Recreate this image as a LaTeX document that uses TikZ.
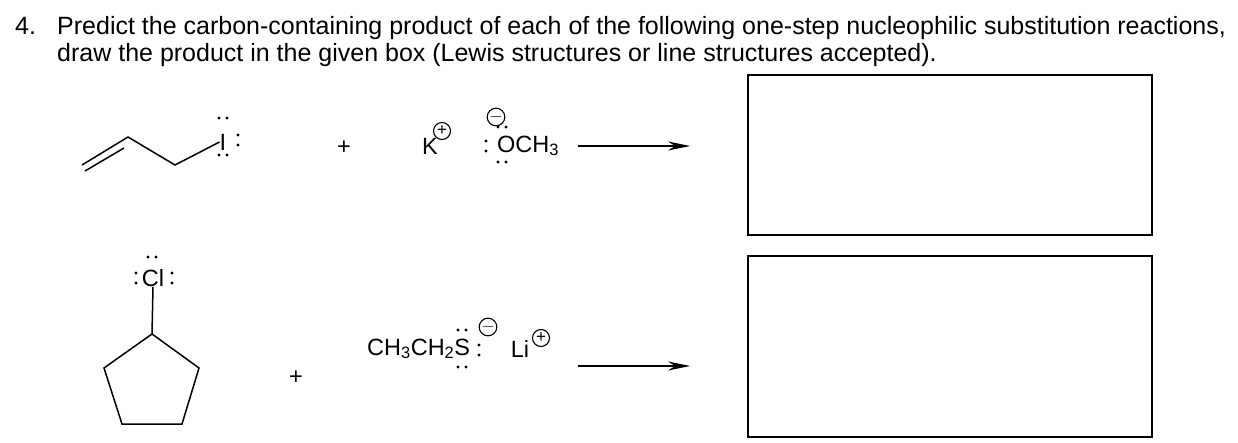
\documentclass[tikz,border=0pt]{standalone}
\usepackage{fontspec}
\setmainfont{Liberation Sans}
\usetikzlibrary{arrows.meta}
\begin{document}
\begin{tikzpicture}[x=1pt,y=-1pt,
  bond/.style={line width=1.5pt},
  lp/.style={fill=black},
  chg/.style={circle,draw,line width=1.1pt,inner sep=0pt,minimum size=17pt,font=\fontsize{17}{17}\selectfont},
  chem/.style={inner sep=0pt,font=\fontsize{23.5}{23.5}\selectfont},
  title/.style={anchor=base west,inner sep=0pt,font=\fontsize{25}{25}\selectfont},
  rxarrow/.style={line width=1.2pt,-{Stealth[length=22pt,width=9pt]}},
  answer/.style={draw,line width=1.2pt}]
\useasboundingbox (0,0) rectangle (1238,443);
\node[title] (num) at (15,35) {4.};
\node[title] (l1) at (57,35) {Predict the carbon-containing product of each of the following one-step nucleophilic substitution reactions,};
\node[title] (l2) at (57,62) {draw the product in the given box (Lewis structures or line structures accepted).};
% allyl iodide
\coordinate (c1) at (82,165);
\coordinate (c2) at (128,137);
\coordinate (c3) at (175,165);
\node[chem] (I) at (223,142) {I};
\draw[bond] (c1) -- (c2) -- (c3) -- (I.west);
\draw[bond] (85,171) -- (124,148);
\foreach \p in {(219,118),(227,118),(219,155),(227,155),(238,135),(238,145)} \fill[lp] \p circle (1.7);
\node[chem] (p1) at (344,148) {+};
\node[chem] (K) at (430,146) {K};
\node[chg] (kp) at (442,131) {+};
\node[chem] (OMe) at (528,146) {OCH\textsubscript{3}};
\node[chg] (om) at (496,117) {$-$};
\foreach \p in {(486,141),(486,151),(498,127),(506,127),(498,162),(506,162)} \fill[lp] \p circle (1.7);
\node (a1s) at (578,146) {}; \node (a1e) at (690,146) {};
\draw[rxarrow] (a1s.center) -- (a1e.center);
\node[answer,minimum width=404pt,minimum height=160pt] (box1) at (950,155) {};
% chlorocyclopentane
\node[chem] (Cl) at (153,278) {Cl};
\foreach \p in {(148,257),(156,257),(136,273),(136,283),(172,273),(172,283)} \fill[lp] \p circle (1.7);
\coordinate (r1) at (152,334);
\coordinate (r2) at (199,368);
\coordinate (r3) at (182,424);
\coordinate (r4) at (122,424);
\coordinate (r5) at (104,368);
\draw[bond] (Cl.south) -- (r1);
\draw[bond] (r1) -- (r2) -- (r3) -- (r4) -- (r5) -- cycle;
\node[chem] (p2) at (296,378) {+};
\node[chem,anchor=west] (SEt) at (367,349) {CH\textsubscript{3}CH\textsubscript{2}S};
\foreach \p in {(458,330),(466,330),(458,367),(466,367),(479,345),(479,355)} \fill[lp] \p circle (1.7);
\node[chg] (sm) at (488,327) {$-$};
\node[chem] (Li) at (520,349) {Li};
\node[chg] (lp) at (541,338) {+};
\node (a2s) at (578,366) {}; \node (a2e) at (690,366) {};
\draw[rxarrow] (a2s.center) -- (a2e.center);
\node[answer,minimum width=404pt,minimum height=181pt] (box2) at (950,346.5) {};
\end{tikzpicture}
\end{document}
